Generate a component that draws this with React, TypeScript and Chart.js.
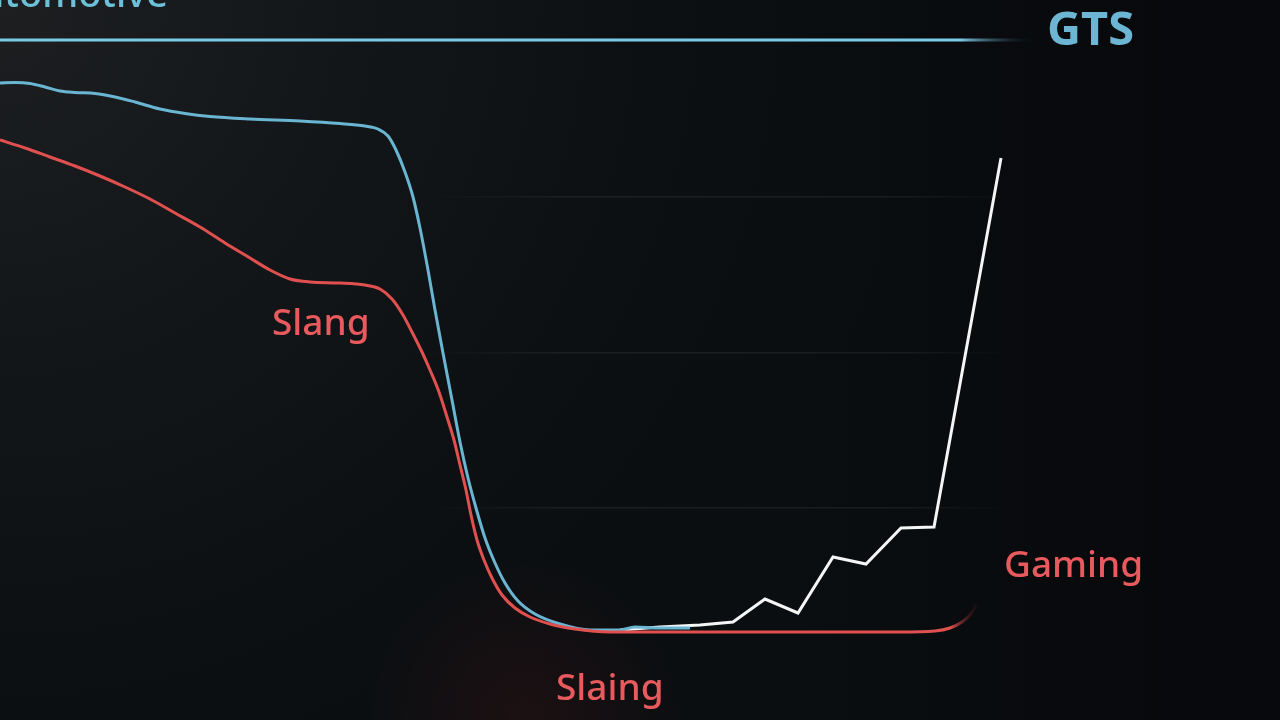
import Chart from "chart.js/auto";
import { useEffect, useRef } from "react";

// values: x = position along the timeline (0..128), y = interest level (0..72)
const blueX = [0, 1.5, 3, 4.5, 6, 7.5, 9.5, 11.5, 13.5, 16, 18.5, 21, 25, 30, 34, 36.5, 37.8, 38.8, 39.6, 40.5, 41.3, 42, 42.8, 43.5, 44.3, 45.2, 46, 46.8, 47.6, 48.5, 49.5, 50.5, 51.8, 53.5, 56, 59, 62, 63.5, 66, 69];
const blueY = [63.7, 63.75, 63.65, 63.3, 62.9, 62.75, 62.65, 62.3, 61.8, 61.1, 60.65, 60.35, 60.1, 59.9, 59.65, 59.4, 59.1, 58.4, 57, 54.8, 52.3, 49.2, 45, 41, 36.7, 32, 27.8, 24.2, 21.2, 18.2, 15.7, 13.7, 11.9, 10.6, 9.6, 9.0, 9.0, 9.3, 9.2, 9.2];

const redX = [0, 2.5, 5, 7.5, 10, 12.5, 15, 17.5, 20, 22.5, 25, 27, 29, 31, 34, 36.5, 38, 39.2, 40.3, 41.3, 42.2, 43, 43.9, 44.7, 45.4, 46, 46.6, 47.1, 47.7, 48.4, 49.2, 50.2, 51.5, 53, 55, 57.5, 61, 70, 80, 90, 93.5, 95, 96.2, 97.1, 97.7];
const redY = [58, 57.2, 56.3, 55.4, 54.4, 53.3, 52.1, 50.7, 49.3, 47.7, 46.2, 45.0, 44.1, 43.8, 43.7, 43.5, 43.1, 42.1, 40.5, 38.6, 36.8, 35, 32.8, 30.3, 28, 25.5, 23, 20.5, 18, 16, 14.2, 12.5, 11.2, 10.3, 9.6, 9.1, 8.8, 8.8, 8.8, 8.8, 8.9, 9.2, 9.8, 10.6, 11.6];

const whiteX = [62, 66, 70, 73.3, 76.5, 79.8, 83.3, 86.6, 90.1, 93.4, 100.1];
const whiteY = [9.0, 9.3, 9.5, 9.8, 12.1, 10.7, 16.3, 15.6, 19.2, 19.3, 56.2];

const gtsX = [0, 52, 104];
const gtsY = [68, 68, 68];

const gridValues = [21.2, 36.7, 52.3];

const labelTexts = ["Automotive", "GTS", "Slang", "Slaing", "Gaming"];
const labelAnchors = [
  { x: 16.8, y: 71.3, align: "right", color: "#6cc0d8", font: "500 38px 'Noto Sans'" },
  { x: 104.7, y: 67.5, align: "left", color: "#6cb6d3", font: "bold 47px 'Noto Sans'" },
  { x: 27.2, y: 38.5, align: "left", color: "#e85a5d", font: "500 37px 'Noto Sans'" },
  { x: 55.6, y: 2.0, align: "left", color: "#e85a5d", font: "500 37px 'Noto Sans'" },
  { x: 100.4, y: 14.3, align: "left", color: "#e85a5d", font: "500 37px 'Noto Sans'" },
];

const toPoints = (xs: number[], ys: number[]) => xs.map((x, i) => ({ x, y: ys[i] }));

const fadeRight = (color: string, from: number, to: number) => (ctx: any) => {
  const { chart } = ctx;
  const x = chart.scales?.x;
  if (!chart.chartArea || !x) return color;
  const g = chart.ctx.createLinearGradient(x.getPixelForValue(from), 0, x.getPixelForValue(to), 0);
  g.addColorStop(0, color);
  g.addColorStop(1, "rgba(0,0,0,0)");
  return g;
};

const backgroundPlugin = {
  id: "bg",
  beforeDraw(chart: any) {
    const { ctx, width, height } = chart;
    ctx.save();
    ctx.fillStyle = "#0b0e11";
    ctx.fillRect(0, 0, width, height);
    const g = ctx.createRadialGradient(0, 0, 0, 0, 0, width * 0.75);
    g.addColorStop(0, "rgba(29,31,33,1)");
    g.addColorStop(0.5, "rgba(19,22,25,0.7)");
    g.addColorStop(1, "rgba(11,14,17,0)");
    ctx.fillStyle = g;
    ctx.fillRect(0, 0, width, height);
    const r = ctx.createLinearGradient(width * 0.6, 0, width, 0);
    r.addColorStop(0, "rgba(0,0,0,0)");
    r.addColorStop(1, "rgba(4,5,7,0.6)");
    ctx.fillStyle = r;
    ctx.fillRect(0, 0, width, height);
    const glow = ctx.createRadialGradient(width * 0.41, height, 0, width * 0.41, height, 160);
    glow.addColorStop(0, "rgba(60,20,20,0.35)");
    glow.addColorStop(1, "rgba(60,20,20,0)");
    ctx.fillStyle = glow;
    ctx.fillRect(0, 0, width, height);
    ctx.restore();
  },
};

const labelPlugin = {
  id: "labels",
  afterDatasetsDraw(chart: any) {
    const { ctx, scales } = chart;
    ctx.save();
    labelTexts.forEach((text, i) => {
      const a = labelAnchors[i];
      ctx.font = a.font;
      ctx.fillStyle = a.color;
      ctx.textAlign = a.align;
      ctx.textBaseline = "alphabetic";
      ctx.fillText(text, scales.x.getPixelForValue(a.x), scales.y.getPixelForValue(a.y));
    });
    ctx.restore();
  },
};

export default function App() {
  const canvasNode = useRef<HTMLCanvasElement | null>(null);

  useEffect(() => {
    if (!canvasNode.current) return;
    const chart = new Chart(canvasNode.current, {
      type: "line",
      data: {
        datasets: [
          {
            label: "GTS",
            data: toPoints(gtsX, gtsY),
            borderColor: fadeRight("#7ccbe6", 96, 104) as any,
            borderWidth: 3,
            pointRadius: 0,
            tension: 0,
          },
          {
            label: "Slang",
            data: toPoints(redX, redY),
            borderColor: fadeRight("#e0504f", 95, 98.5) as any,
            borderWidth: 3,
            pointRadius: 0,
            cubicInterpolationMode: "monotone",
          },
          {
            label: "Automotive",
            data: toPoints(blueX, blueY),
            borderColor: "#6ab6d2",
            borderWidth: 3,
            pointRadius: 0,
            cubicInterpolationMode: "monotone",
          },
          {
            label: "Gaming",
            data: toPoints(whiteX, whiteY),
            borderColor: "#f5f5f5",
            borderWidth: 3,
            pointRadius: 0,
            tension: 0,
          },
        ],
      },
      options: {
        animation: false,
        responsive: true,
        maintainAspectRatio: false,
        layout: { padding: 0 },
        plugins: { legend: { display: false }, tooltip: { enabled: false } },
        scales: {
          x: { type: "linear", min: 0, max: 128, display: false },
          y: {
            type: "linear",
            min: 0,
            max: 72,
            afterBuildTicks: (scale: any) => {
              scale.ticks = gridValues.map((value) => ({ value }));
            },
            ticks: { display: false },
            border: { display: false },
            grid: {
              drawTicks: false,
              lineWidth: 1.5,
              color: (ctx: any) => {
                const { chart } = ctx;
                if (!chart.chartArea) return "rgba(255,255,255,0.05)";
                const { left, right } = chart.chartArea;
                const g = chart.ctx.createLinearGradient(left, 0, right, 0);
                g.addColorStop(0, "rgba(255,255,255,0)");
                g.addColorStop(0.33, "rgba(255,255,255,0)");
                g.addColorStop(0.45, "rgba(255,255,255,0.065)");
                g.addColorStop(0.7, "rgba(255,255,255,0.065)");
                g.addColorStop(0.79, "rgba(255,255,255,0)");
                g.addColorStop(1, "rgba(255,255,255,0)");
                return g;
              },
            },
          },
        },
      },
      plugins: [backgroundPlugin, labelPlugin],
    });
    return () => chart.destroy();
  }, []);

  return (
    <div style={{ position: "fixed", left: 0, top: 0, width: "1280px", height: "720px" }}>
      <canvas ref={canvasNode} />
    </div>
  );
}
